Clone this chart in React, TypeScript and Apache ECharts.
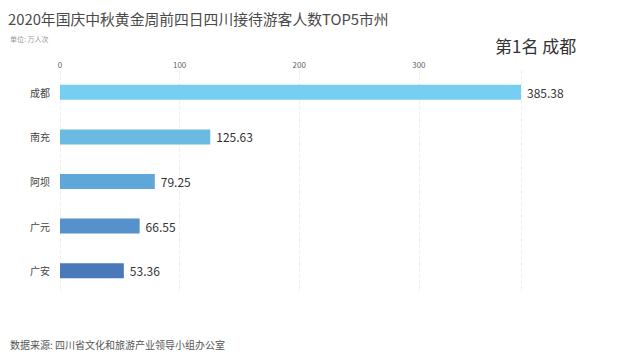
import React, { useEffect, useRef } from "react";
import * as echarts from "echarts";

const categories = ["成都", "南充", "阿坝", "广元", "广安"];
const values = [385.38, 125.63, 79.25, 66.55, 53.36];
const barColors = ["#76CFF0", "#6ABAE2", "#5FA6D9", "#5591CB", "#4A79BA"];
const xTicks = [0, 100, 200, 300];

const FONT = "'Noto Sans CJK SC', 'Noto Sans', sans-serif";

export default function App() {
  const ref = useRef<HTMLDivElement>(null);
  useEffect(() => {
    if (!ref.current) return;
    const chart = echarts.init(ref.current, undefined, { renderer: "svg" });
    chart.setOption({
      animation: false,
      backgroundColor: "#ffffff",
      textStyle: { fontFamily: FONT },
      title: [
        {
          text: "2020年国庆中秋黄金周前四日四川接待游客人数TOP5市州",
          left: 8,
          top: 11,
          padding: 0,
          textStyle: { fontSize: 14.8, fontWeight: "normal", color: "#4a4a4a", fontFamily: FONT },
        },
        {
          text: "单位: 万人次",
          left: 10,
          top: 35,
          padding: 0,
          textStyle: { fontSize: 7, fontWeight: "normal", color: "#999", fontFamily: FONT },
        },
        {
          text: "第1名 " + categories[0],
          left: 495,
          top: 37,
          padding: 0,
          textStyle: { fontSize: 17, fontWeight: "normal", color: "#333", fontFamily: FONT },
        },
        {
          text: "数据来源: 四川省文化和旅游产业领导小组办公室",
          left: 10,
          top: 339,
          padding: 0,
          textStyle: { fontSize: 10, fontWeight: "normal", color: "#555", fontFamily: FONT },
        },
      ],
      grid: { left: 60, right: 118, top: 70, bottom: 66, containLabel: false },
      xAxis: {
        type: "value",
        position: "top",
        min: xTicks[0],
        max: Math.max(...values),
        interval: xTicks[1] - xTicks[0],
        axisLine: { show: false },
        axisTick: { show: false },
        axisLabel: {
          color: "#666",
          fontSize: 8,
          margin: 2,
          showMaxLabel: false,
          fontFamily: FONT,
        },
        splitLine: { show: true, lineStyle: { color: "#f0f0f0", type: "dashed", width: 1 } },
      },
      yAxis: {
        type: "category",
        data: categories,
        inverse: true,
        axisLine: { show: false },
        axisTick: { show: false },
        axisLabel: { color: "#444", fontSize: 10, margin: 10, fontFamily: FONT },
      },
      series: [
        {
          type: "bar",
          data: values.map((v, i) => ({ value: v, itemStyle: { color: barColors[i] } })),
          barWidth: 15,
          label: {
            show: true,
            position: "right",
            distance: 6,
            color: "#333",
            fontSize: 12,
            fontFamily: FONT,
            formatter: (p: any) => p.value.toFixed(2),
          },
        },
      ],
    });
    return () => chart.dispose();
  }, []);
  return (
    <div
      ref={ref}
      style={{ position: "absolute", left: 0, top: 0, width: 639, height: 359 }}
    />
  );
}
